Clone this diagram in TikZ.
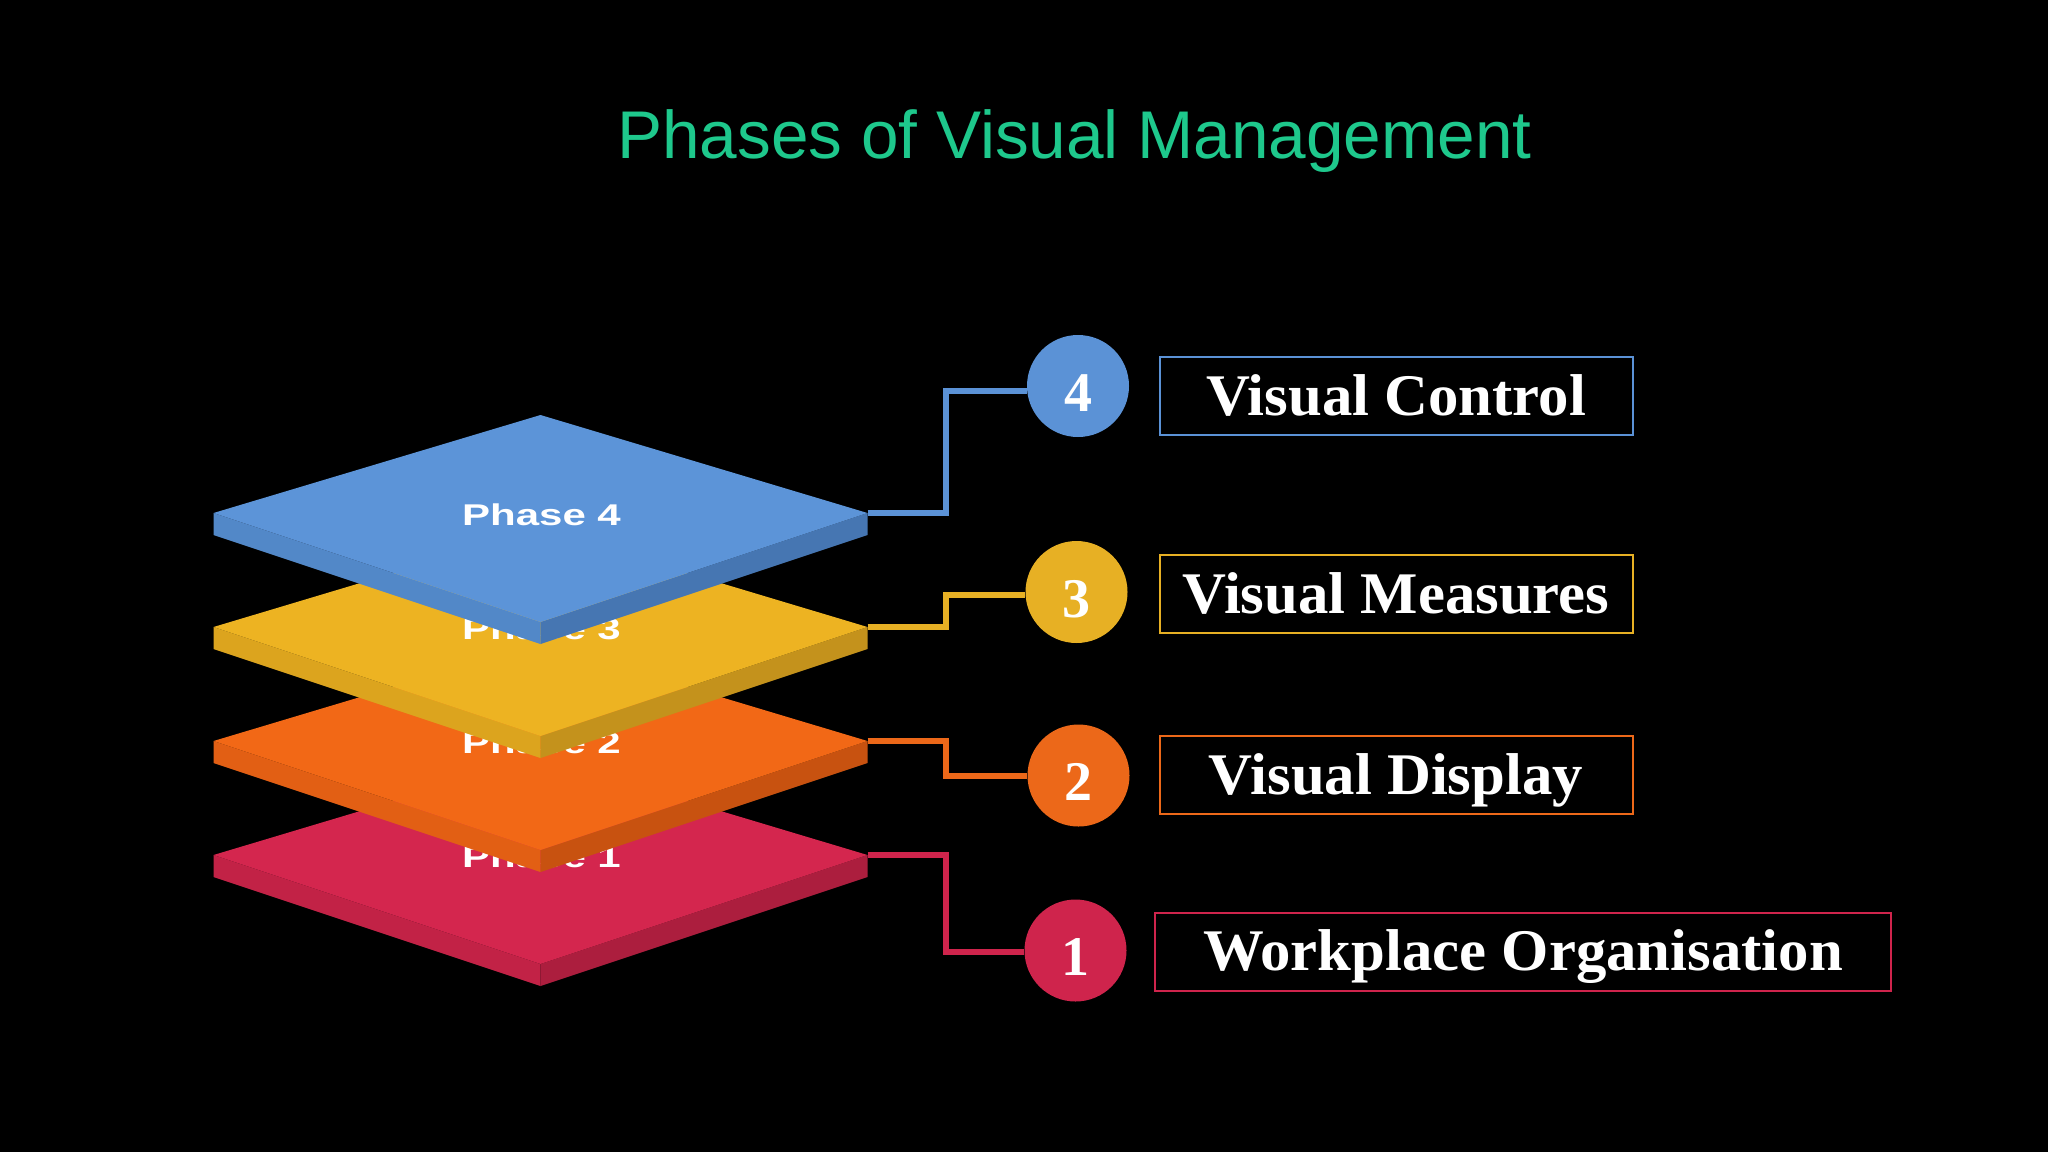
\documentclass[tikz,border=0pt]{standalone}
\usepackage{fontspec}
\setmainfont{Liberation Serif}
\newfontfamily\sansf{Liberation Sans}
\definecolor{tgreen}{RGB}{30,200,140}
\definecolor{bluT}{RGB}{92,148,216}
\definecolor{bluL}{RGB}{82,136,200}
\definecolor{bluR}{RGB}{70,118,178}
\definecolor{yelT}{RGB}{237,179,34}
\definecolor{yelL}{RGB}{220,164,30}
\definecolor{yelR}{RGB}{196,146,28}
\definecolor{orgT}{RGB}{242,104,22}
\definecolor{orgL}{RGB}{226,95,20}
\definecolor{orgR}{RGB}{200,82,16}
\definecolor{redT}{RGB}{212,38,78}
\definecolor{redL}{RGB}{194,34,70}
\definecolor{redR}{RGB}{172,30,62}
\definecolor{bluC}{RGB}{91,146,214}
\definecolor{yelC}{RGB}{231,176,36}
\definecolor{orgC}{RGB}{236,104,25}
\definecolor{redC}{RGB}{207,36,76}
\newcommand\drawplate[6]{%
  \fill[#4] (213.5,#2) -- (540.5,#2+109) -- (540.5,#2+131) -- (213.5,#2+22) -- cycle;
  \fill[#5] (540.5,#2+109) -- (867.5,#2) -- (867.5,#2+22) -- (540.5,#2+131) -- cycle;
  \fill[#3] (213.5,#2) -- (540.5,#2-98) -- (867.5,#2) -- (540.5,#2+109) -- cycle;
  \coordinate (#1) at (867.5,#2);
  \node[phase] (#1t) at (541.5,#2+2) {\scalebox{1.4}[1]{#6}};
}
\newcommand\wide[1]{\scalebox{1.03}[1]{#1}}
\begin{document}
\begin{tikzpicture}[x=1pt,y=-1pt,
  phase/.style={text=white,font=\sansf\bfseries\fontsize{30}{30}\selectfont,inner sep=0pt,text height=21.5pt,text depth=0pt},
  numc/.style={circle,minimum size=102pt,inner sep=0pt},
  numt/.style={text=white,inner sep=0pt,font=\bfseries\fontsize{56}{56}\selectfont,text height=38pt,text depth=0pt},
  lbox/.style={draw,line width=2pt,inner sep=0pt,minimum height=78pt,text=white,font=\bfseries\fontsize{59}{59}\selectfont,text height=38pt,text depth=0pt},
  conn/.style={line width=6pt}]
\useasboundingbox (0,0) rectangle (2048,1152);
\fill[black] (0,0) rectangle (2048,1152);
% title
\node[anchor=base,text=tgreen,font=\sansf\fontsize{67.5}{70}\selectfont,inner sep=0pt] (title) at (1074.5,158) {Phases of Visual Management};
% plates
\drawplate{p1}{855}{redT}{redL}{redR}{Phase 1}
\drawplate{p2}{741}{orgT}{orgL}{orgR}{Phase 2}
\drawplate{p3}{627}{yelT}{yelL}{yelR}{Phase 3}
\drawplate{p4}{513}{bluT}{bluL}{bluR}{Phase 4}
% circles
\node[numc,fill=bluC] (c4) at (1078,386) {};
\node[numc,fill=yelC] (c3) at (1076.5,592) {};
\node[numc,fill=orgC] (c2) at (1078.5,775.5) {};
\node[numc,fill=redC] (c1) at (1075.5,950.5) {};
\node[numt] (n4) at ([yshift=-6pt]c4.center) {4};
\node[numt] (n3) at ([yshift=-6pt]c3.center) {3};
\node[numt] (n2) at ([yshift=-6pt]c2.center) {2};
\node[numt] (n1) at ([yshift=-6pt]c1.center) {1};
% connectors
\draw[conn,bluC] (p4) -- ++(78.5,0) |- ([yshift=-5pt]c4.west);
\draw[conn,yelC] (p3) -- ++(78.5,0) |- ([yshift=-3pt]c3.west);
\draw[conn,orgC] (p2) -- ++(78.5,0) |- (c2.west);
\draw[conn,redC] (p1) -- ++(78.5,0) |- ([yshift=-1.5pt]c1.west);
% boxes
\node[lbox,draw=bluC,minimum width=473pt] (b4) at (1396,396) {\wide{Visual Control}};
\node[lbox,draw=yelC,minimum width=473pt] (b3) at (1396,594.3) {\wide{Visual Measures}};
\node[lbox,draw=orgC,minimum width=473pt] (b2) at (1396,775) {\wide{Visual Display}};
\node[lbox,draw=redC,minimum width=736pt] (b1) at (1523,951.5) {\wide{Workplace Organisation}};
\end{tikzpicture}
\end{document}
